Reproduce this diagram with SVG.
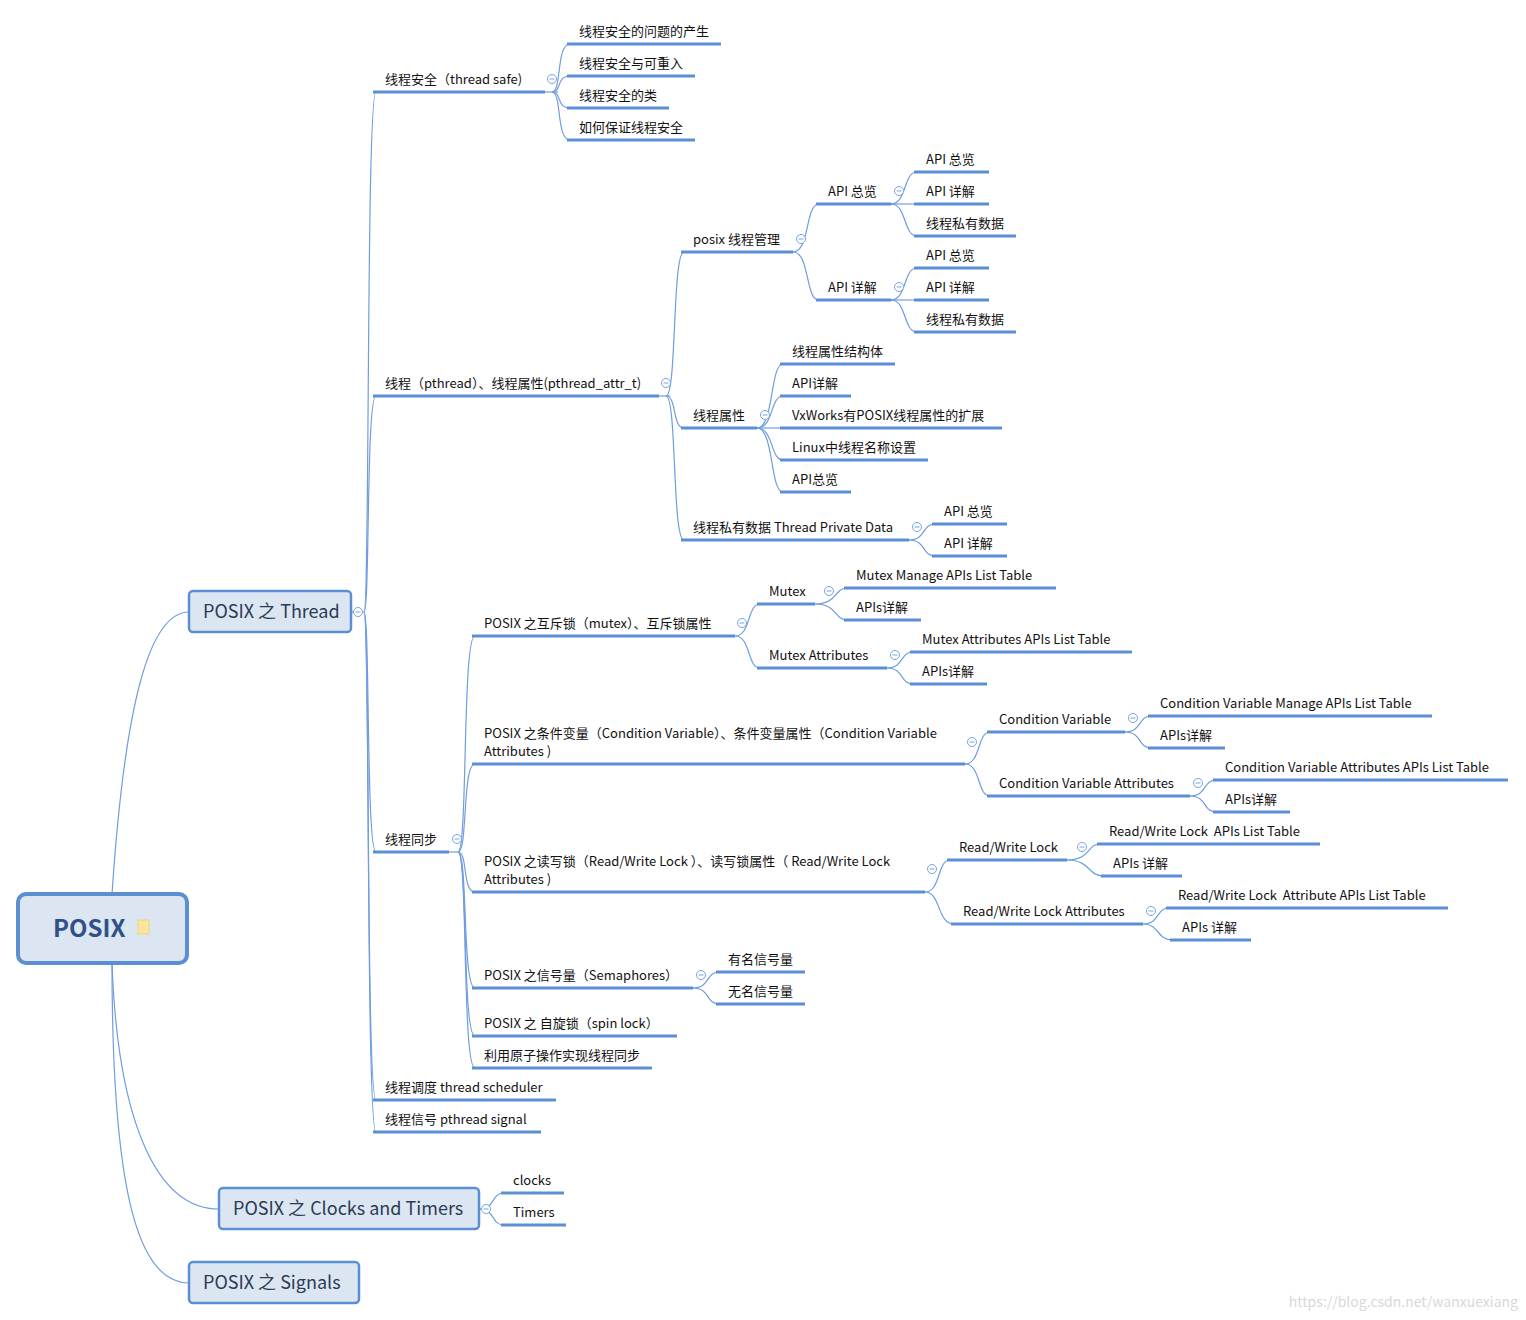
<svg xmlns="http://www.w3.org/2000/svg" width="1526" height="1320" viewBox="0 0 1526 1320">
<style>
text{font-family:"Noto Sans CJK SC","Liberation Sans",sans-serif;font-size:13px;fill:#111}
.u{stroke:#5b8fd4;stroke-width:3;fill:none}
.c{stroke:#6f9de0;stroke-width:1.2;fill:none}
.b{fill:#dce6f2;stroke:#5b8fd4;stroke-width:2.5}
.m{font-size:18px;fill:#2b3b55}
</style>
<defs>
<g id="col"><circle r="4.5" fill="#fff" stroke="#7aa3de"/><line x1="-2.5" x2="2.5" y1="0" y2="0" stroke="#7aa3de"/></g>
</defs>
<g id="connectors">
<path class="c" d="M112,894 C125,700 150,612 189,612"/>
<path class="c" d="M112,963 C118,1130 160,1209 219,1209"/>
<path class="c" d="M112,963 C112,1200 140,1283 189,1283"/>
<path class="c" d="M352,612 H364"/>
<path class="c" d="M364,612 C370,612 366,92 376,92"/>
<path class="c" d="M364,612 C370,612 366,396 376,396"/>
<path class="c" d="M364,612 C370,612 366,852 376,852"/>
<path class="c" d="M364,612 C370,612 366,1100 376,1100"/>
<path class="c" d="M364,612 C370,612 366,1132 376,1132"/>
<path class="c" d="M545,92 H558"/>
<path class="c" d="M552,92 C562,92 556,44 570,44"/>
<path class="c" d="M552,92 C562,92 556,76 570,76"/>
<path class="c" d="M552,92 C562,92 556,108 570,108"/>
<path class="c" d="M552,92 C562,92 556,140 570,140"/>
<path class="c" d="M659,396 H670"/>
<path class="c" d="M666,396 C677,396 672,252 684,252"/>
<path class="c" d="M666,396 C677,396 672,428 684,428"/>
<path class="c" d="M666,396 C677,396 672,540 684,540"/>
<path class="c" d="M793,252 C810,252 805,204 819,204"/>
<path class="c" d="M793,252 C810,252 805,300 819,300"/>
<path class="c" d="M891,204 C907,204 903,172 917,172"/>
<path class="c" d="M891,204 H917"/>
<path class="c" d="M891,204 C907,204 903,236 917,236"/>
<path class="c" d="M891,300 C907,300 903,268 917,268"/>
<path class="c" d="M891,300 H917"/>
<path class="c" d="M891,300 C907,300 903,332 917,332"/>
<path class="c" d="M757,428 C774,428 770,364 783,364"/>
<path class="c" d="M757,428 C774,428 770,396 783,396"/>
<path class="c" d="M757,428 H783"/>
<path class="c" d="M757,428 C774,428 770,460 783,460"/>
<path class="c" d="M757,428 C774,428 770,492 783,492"/>
<path class="c" d="M909,540 C926,540 922,524 935,524"/>
<path class="c" d="M909,540 C926,540 922,556 935,556"/>
<path class="c" d="M449,852 H458"/>
<path class="c" d="M458,852 C468,852 462,636 475,636"/>
<path class="c" d="M458,852 C468,852 462,764 475,764"/>
<path class="c" d="M458,852 C468,852 462,892 475,892"/>
<path class="c" d="M458,852 C468,852 462,988 475,988"/>
<path class="c" d="M458,852 C468,852 462,1036 475,1036"/>
<path class="c" d="M458,852 C468,852 462,1068 475,1068"/>
<path class="c" d="M735,636 C751,636 747,604 760,604"/>
<path class="c" d="M735,636 C751,636 747,668 760,668"/>
<path class="c" d="M815,604 C838,604 834,588 847,588"/>
<path class="c" d="M815,604 C838,604 834,620 847,620"/>
<path class="c" d="M887,668 C904,668 900,652 913,652"/>
<path class="c" d="M887,668 C904,668 900,684 913,684"/>
<path class="c" d="M965,764 C981,764 977,732 990,732"/>
<path class="c" d="M965,764 C981,764 977,796 990,796"/>
<path class="c" d="M1125,732 C1142,732 1138,716 1151,716"/>
<path class="c" d="M1125,732 C1142,732 1138,748 1151,748"/>
<path class="c" d="M1190,796 C1207,796 1203,780 1216,780"/>
<path class="c" d="M1190,796 C1207,796 1203,812 1216,812"/>
<path class="c" d="M925,892 C941,892 937,860 950,860"/>
<path class="c" d="M925,892 C941,892 937,924 954,924"/>
<path class="c" d="M1067,860 C1091,860 1087,844 1100,844"/>
<path class="c" d="M1067,860 C1091,860 1087,876 1104,876"/>
<path class="c" d="M1143,924 C1160,924 1156,908 1169,908"/>
<path class="c" d="M1143,924 C1160,924 1156,940 1173,940"/>
<path class="c" d="M693,988 C710,988 706,972 719,972"/>
<path class="c" d="M693,988 C710,988 706,1004 719,1004"/>
<path class="c" d="M480,1209 C495,1209 491,1193 504,1193"/>
<path class="c" d="M480,1209 C495,1209 491,1225 504,1225"/>
</g>

<g id="root"><rect class="b" x="18" y="894" width="169" height="69" rx="8" style="stroke-width:4"/><text x="53" y="937" style="font-size:24px;font-weight:bold;fill:#2f5185">POSIX</text>
<rect x="138" y="920" width="11" height="14" fill="#fbe6a0" stroke="#f0cc6a" stroke-width="0.8"/></g>
<g id="thread"><rect class="b" x="189" y="591" width="162" height="41" rx="4"/><text class="m" x="203" y="618">POSIX 之 Thread</text><use href="#col" x="358" y="612"/></g>
<g id="clocks"><rect class="b" x="219" y="1188" width="260" height="41" rx="4"/><text class="m" x="233" y="1215">POSIX 之 Clocks and Timers</text><use href="#col" x="486" y="1209"/></g>
<g id="signals"><rect class="b" x="189" y="1262" width="170" height="41" rx="4"/><text class="m" x="203" y="1289">POSIX 之 Signals</text></g>

<g id="n-ts"><path class="u" d="M373,92H545"/><text x="385" y="84">线程安全（thread safe)</text><use href="#col" x="552" y="79"/></g>
<g id="n-ts1"><path class="u" d="M567,44H721"/><text x="579" y="36">线程安全的问题的产生</text></g>
<g id="n-ts2"><path class="u" d="M567,76H695"/><text x="579" y="68">线程安全与可重入</text></g>
<g id="n-ts3"><path class="u" d="M567,108H669"/><text x="579" y="100">线程安全的类</text></g>
<g id="n-ts4"><path class="u" d="M567,140H695"/><text x="579" y="132">如何保证线程安全</text></g>

<g id="n-pt"><path class="u" d="M373,396H659"/><text x="385" y="388">线程（pthread）、线程属性(pthread_attr_t)</text><use href="#col" x="666" y="383"/></g>
<g id="n-pm"><path class="u" d="M681,252H793"/><text x="693" y="244">posix 线程管理</text><use href="#col" x="801" y="239"/></g>
<g id="n-pm1"><path class="u" d="M816,204H891"/><text x="828" y="196">API 总览</text><use href="#col" x="899" y="191"/></g>
<g id="n-pm2"><path class="u" d="M816,300H891"/><text x="828" y="292">API 详解</text><use href="#col" x="899" y="287"/></g>
<g id="n-a1"><path class="u" d="M914,172H989"/><text x="926" y="164">API 总览</text></g>
<g id="n-a2"><path class="u" d="M914,204H989"/><text x="926" y="196">API 详解</text></g>
<g id="n-a3"><path class="u" d="M914,236H1016"/><text x="926" y="228">线程私有数据</text></g>
<g id="n-b1"><path class="u" d="M914,268H989"/><text x="926" y="260">API 总览</text></g>
<g id="n-b2"><path class="u" d="M914,300H989"/><text x="926" y="292">API 详解</text></g>
<g id="n-b3"><path class="u" d="M914,332H1016"/><text x="926" y="324">线程私有数据</text></g>
<g id="n-at"><path class="u" d="M681,428H757"/><text x="693" y="420">线程属性</text><use href="#col" x="765" y="415"/></g>
<g id="n-at1"><path class="u" d="M780,364H895"/><text x="792" y="356">线程属性结构体</text></g>
<g id="n-at2"><path class="u" d="M780,396H851"/><text x="792" y="388">API详解</text></g>
<g id="n-at3"><path class="u" d="M780,428H1002"/><text x="792" y="420">VxWorks有POSIX线程属性的扩展</text></g>
<g id="n-at4"><path class="u" d="M780,460H928"/><text x="792" y="452">Linux中线程名称设置</text></g>
<g id="n-at5"><path class="u" d="M780,492H851"/><text x="792" y="484">API总览</text></g>
<g id="n-pd"><path class="u" d="M681,540H909"/><text x="693" y="532">线程私有数据 Thread Private Data</text><use href="#col" x="917" y="527"/></g>
<g id="n-pd1"><path class="u" d="M932,524H1007"/><text x="944" y="516">API 总览</text></g>
<g id="n-pd2"><path class="u" d="M932,556H1007"/><text x="944" y="548">API 详解</text></g>

<g id="n-sy"><path class="u" d="M373,852H449"/><text x="385" y="844">线程同步</text><use href="#col" x="457" y="839"/></g>
<g id="n-mx"><path class="u" d="M472,636H735"/><text x="484" y="628">POSIX 之互斥锁（mutex）、互斥锁属性</text><use href="#col" x="742" y="623"/></g>
<g id="n-mx1"><path class="u" d="M757,604H815"/><text x="769" y="596">Mutex</text><use href="#col" x="829" y="591"/></g>
<g id="n-mx2"><path class="u" d="M757,668H887"/><text x="769" y="660">Mutex Attributes</text><use href="#col" x="895" y="655"/></g>
<g id="n-mx11"><path class="u" d="M844,588H1056"/><text x="856" y="580">Mutex Manage APIs List Table</text></g>
<g id="n-mx12"><path class="u" d="M844,620H921"/><text x="856" y="612">APIs详解</text></g>
<g id="n-mx21"><path class="u" d="M910,652H1132"/><text x="922" y="644">Mutex Attributes APIs List Table</text></g>
<g id="n-mx22"><path class="u" d="M910,684H987"/><text x="922" y="676">APIs详解</text></g>
<g id="n-cv"><path class="u" d="M472,764H965"/><text x="484" y="738">POSIX 之条件变量（Condition Variable）、条件变量属性（Condition Variable</text><text x="484" y="756">Attributes )</text><use href="#col" x="972" y="742"/></g>
<g id="n-cv1"><path class="u" d="M987,732H1125"/><text x="999" y="724">Condition Variable</text><use href="#col" x="1133" y="718"/></g>
<g id="n-cv2"><path class="u" d="M987,796H1190"/><text x="999" y="788">Condition Variable Attributes</text><use href="#col" x="1198" y="783"/></g>
<g id="n-cv11"><path class="u" d="M1148,716H1432"/><text x="1160" y="708">Condition Variable Manage APIs List Table</text></g>
<g id="n-cv12"><path class="u" d="M1148,748H1225"/><text x="1160" y="740">APIs详解</text></g>
<g id="n-cv21"><path class="u" d="M1213,780H1508"/><text x="1225" y="772">Condition Variable Attributes APIs List Table</text></g>
<g id="n-cv22"><path class="u" d="M1213,812H1290"/><text x="1225" y="804">APIs详解</text></g>
<g id="n-rw"><path class="u" d="M472,892H925"/><text x="484" y="866">POSIX 之读写锁（Read/Write Lock ）、读写锁属性（ Read/Write Lock</text><text x="484" y="884">Attributes )</text><use href="#col" x="932" y="869"/></g>
<g id="n-rw1"><path class="u" d="M947,860H1067"/><text x="959" y="852">Read/Write Lock</text><use href="#col" x="1082" y="847"/></g>
<g id="n-rw2"><path class="u" d="M951,924H1143"/><text x="963" y="916">Read/Write Lock Attributes</text><use href="#col" x="1151" y="911"/></g>
<g id="n-rw11"><path class="u" d="M1097,844H1320"/><text x="1109" y="836" xml:space="preserve">Read/Write Lock  APIs List Table</text></g>
<g id="n-rw12"><path class="u" d="M1101,876H1182"/><text x="1113" y="868">APIs 详解</text></g>
<g id="n-rw21"><path class="u" d="M1166,908H1448"/><text x="1178" y="900" xml:space="preserve">Read/Write Lock  Attribute APIs List Table</text></g>
<g id="n-rw22"><path class="u" d="M1170,940H1251"/><text x="1182" y="932">APIs 详解</text></g>
<g id="n-sem"><path class="u" d="M472,988H693"/><text x="484" y="980">POSIX 之信号量（Semaphores）</text><use href="#col" x="701" y="975"/></g>
<g id="n-sem1"><path class="u" d="M716,972H805"/><text x="728" y="964">有名信号量</text></g>
<g id="n-sem2"><path class="u" d="M716,1004H805"/><text x="728" y="996">无名信号量</text></g>
<g id="n-spin"><path class="u" d="M472,1036H677"/><text x="484" y="1028">POSIX 之 自旋锁（spin lock）</text></g>
<g id="n-atom"><path class="u" d="M472,1068H652"/><text x="484" y="1060">利用原子操作实现线程同步</text></g>
<g id="n-sch"><path class="u" d="M373,1100H556"/><text x="385" y="1092">线程调度 thread scheduler</text></g>
<g id="n-sig"><path class="u" d="M373,1132H541"/><text x="385" y="1124">线程信号 pthread signal</text></g>
<g id="n-ck1"><path class="u" d="M501,1193H564"/><text x="513" y="1185">clocks</text></g>
<g id="n-ck2"><path class="u" d="M501,1225H566"/><text x="513" y="1217">Timers</text></g>
<text x="1518" y="1307" text-anchor="end" style="font-size:14px;fill:#d8d8d8">https://blog.csdn.net/wanxuexiang</text>
</svg>
